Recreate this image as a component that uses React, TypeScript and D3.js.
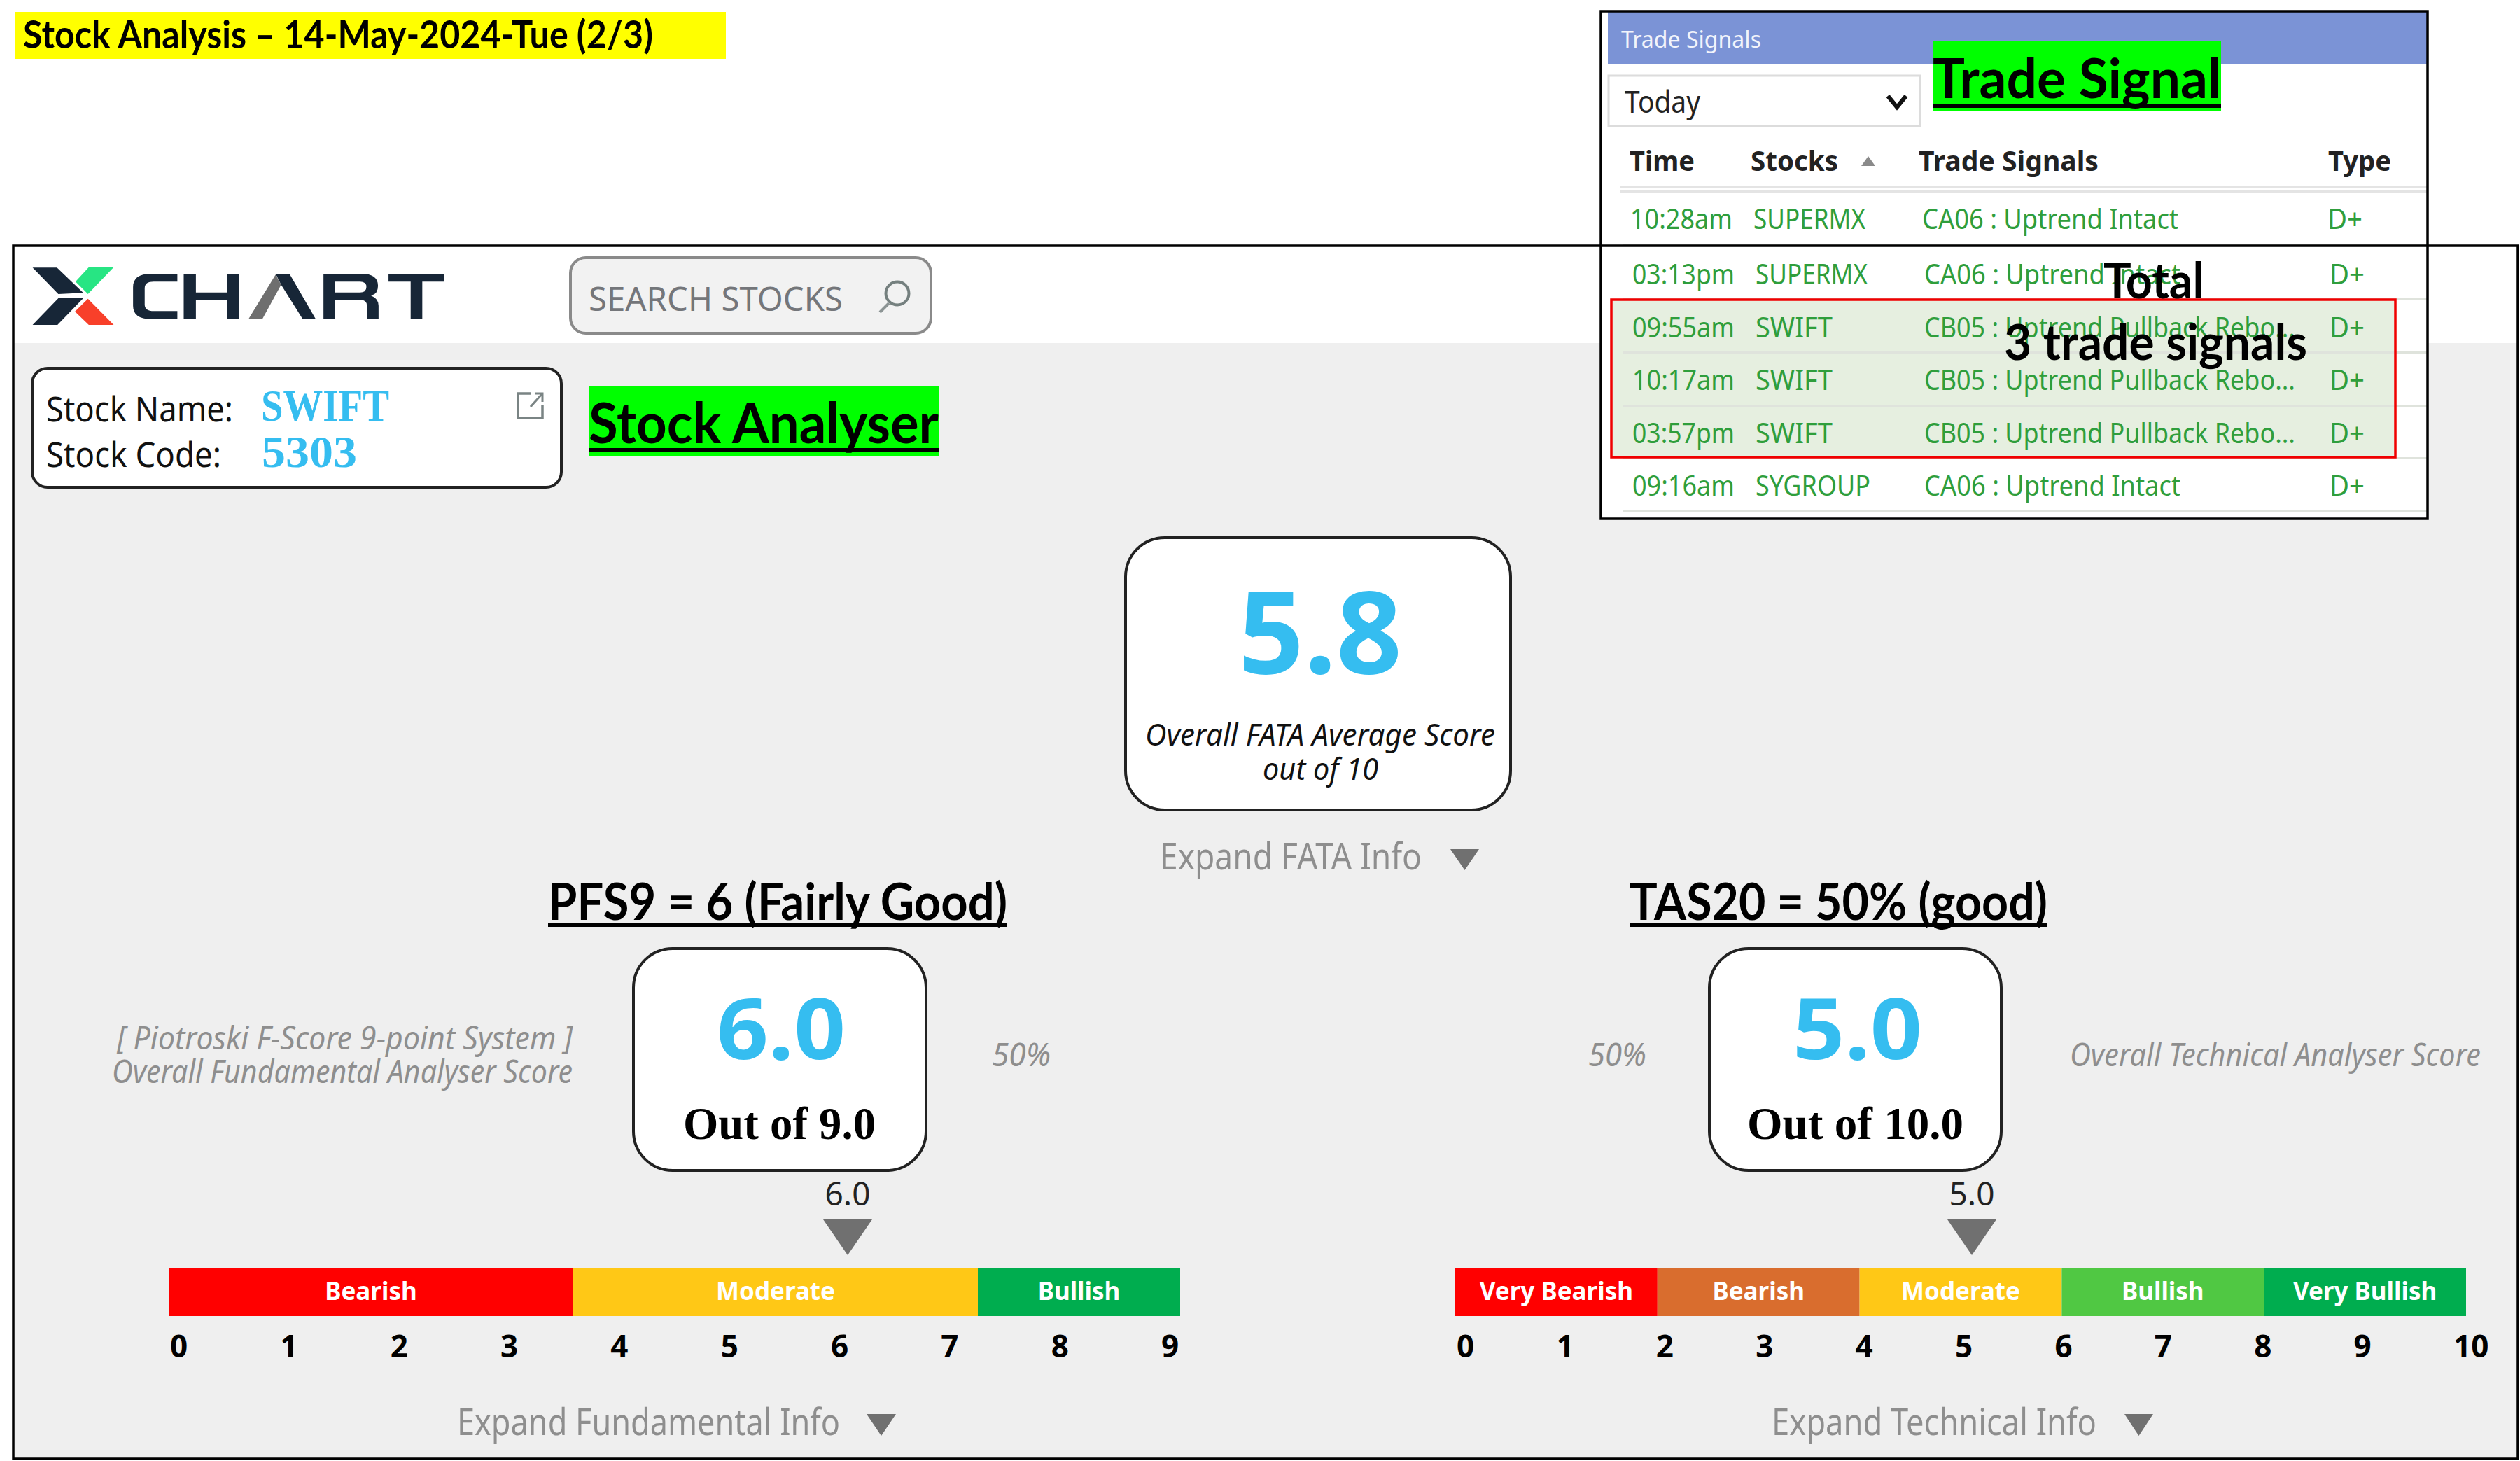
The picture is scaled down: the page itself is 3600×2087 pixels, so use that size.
import React from "react";
import * as d3 from "d3";

const W = 3600;
const H = 2087;

// ---- data ----
const pageTitle = "Stock Analysis – 14-May-2024-Tue (2/3)";
const stockName = "SWIFT";
const stockCode = "5303";
const overallScore = "5.8";
const signalTimes = ["10:28am", "03:13pm", "09:55am", "10:17am", "03:57pm", "09:16am"];
const signalStocks = ["SUPERMX", "SUPERMX", "SWIFT", "SWIFT", "SWIFT", "SYGROUP"];
const signalNames = [
  "CA06 : Uptrend Intact",
  "CA06 : Uptrend Intact",
  "CB05 : Uptrend Pullback Rebo...",
  "CB05 : Uptrend Pullback Rebo...",
  "CB05 : Uptrend Pullback Rebo...",
  "CA06 : Uptrend Intact",
];
const signalTypes = ["D+", "D+", "D+", "D+", "D+", "D+"];

const fundamentalScore = 6;
const fundamentalMax = 9;
const fundamentalBands = ["Bearish", "Moderate", "Bullish"];
const fundamentalBandEnds = [3.6, 7.2, 9];
const fundamentalColors = ["#ff0000", "#ffc816", "#00ad4f"];

const technicalScore = 5;
const technicalMax = 10;
const technicalBands = ["Very Bearish", "Bearish", "Moderate", "Bullish", "Very Bullish"];
const technicalBandEnds = [2, 4, 6, 8, 10];
const technicalColors = ["#ff0000", "#d96d2e", "#ffc816", "#50c843", "#00ad4f"];

// ---- style ----
const LATO = "Lato, Carlito, sans-serif";
const NOTO = "'Noto Sans', sans-serif";
const SERIF = "'Liberation Serif', serif";
const BLUE = "#35bdf0";
const GREY = "#8e8e8e";
const SIGNAL = "#2f9e3c";
const ARROW = "#707070";

type TP = {
  x: number;
  y: number;
  w?: number;
  size: number;
  font?: string;
  fill?: string;
  bold?: boolean;
  italic?: boolean;
  anchor?: string;
  children: React.ReactNode;
};

function T({ x, y, w, size, font = NOTO, fill = "#000", bold, italic, anchor, children }: TP) {
  const fit = w ? { textLength: w, lengthAdjust: "spacingAndGlyphs" as const } : {};
  return (
    <text
      x={x}
      y={y}
      fontFamily={font}
      fontSize={size}
      fill={fill}
      fontWeight={bold ? 700 : 400}
      fontStyle={italic ? "italic" : "normal"}
      textAnchor={anchor}
      {...fit}
    >
      {children}
    </text>
  );
}

function Tri({ x0, x1, y0, y1, fill = ARROW }: { x0: number; x1: number; y0: number; y1: number; fill?: string }) {
  const d = d3.line()([
    [x0, y0],
    [x1, y0],
    [(x0 + x1) / 2, y1],
  ]);
  return <path d={d + "Z"} fill={fill} />;
}

function Label({ x0, x1, y0, y1, ulY, ulH, baseline, size, fill, children }: any) {
  return (
    <g>
      {fill && <rect x={x0} y={y0} width={x1 - x0} height={y1 - y0} fill={fill} />}
      <T x={x0} y={baseline} w={x1 - x0} size={size} font={LATO} bold>
        {children}
      </T>
      <rect x={x0} y={ulY} width={x1 - x0} height={ulH} fill="#000" />
    </g>
  );
}

function Logo() {
  const navy = "#172637";
  return (
    <g transform="translate(30,365) scale(0.3954,0.3333)">
      <polygon points="42,52 130,52 225,160 135,165" fill={navy} />
      <polygon points="135,183 225,183 132,297 42,297" fill={navy} />
      <polygon points="245,50 335,50 242,165 197,112" fill="#27e583" />
      <polygon points="242,185 335,297 245,297 195,240" fill="#f8402a" />
      <path
        d="M565,78 L470,78 Q405,78 405,135 L405,215 Q405,272 470,272 L565,272 L565,238 L480,238 Q447,238 447,210 L447,140 Q447,112 480,112 L565,112 Z"
        fill={navy}
      />
      <path d="M588,78 H632 V158 H745 V78 H788 V272 H745 V190 H632 V272 H588 Z" fill={navy} />
      <polygon points="920,82 940,125 872,272 822,272" fill="#6f6f6f" />
      <polygon points="920,78 970,78 1065,272 1018,272 940,125" fill={navy} />
      <path
        fillRule="evenodd"
        d="M1093,78 L1230,78 Q1290,78 1290,130 Q1290,165 1265,172 Q1292,185 1292,215 L1292,272 L1250,272 L1250,215 Q1250,190 1225,190 L1135,190 L1135,272 L1093,272 Z M1135,112 L1135,158 L1225,158 Q1248,158 1248,135 Q1248,112 1225,112 Z"
        fill={navy}
      />
      <path d="M1328,78 H1528 V112 H1450 V272 H1408 V112 H1328 Z" fill={navy} />
    </g>
  );
}

type GaugeProps = {
  score: number;
  max: number;
  bands: string[];
  ends: number[];
  colors: string[];
  barX: [number, number];
  tickX: [number, number];
};

function Gauge({ score, max, bands, ends, colors, barX, tickX }: GaugeProps) {
  const bar = d3.scaleLinear().domain([0, max]).range(barX);
  // tick labels are left-aligned on their positions, the pointer sits a little right of them
  const tick = d3.scaleLinear().domain([0, max]).range(tickX);
  const px = tick(score) + 24;
  const barTop = 1812;
  const barBottom = 1880;
  return (
    <g>
      <T x={px} y={1722} size={46} anchor="middle" fill="#222">
        {score.toFixed(1)}
      </T>
      <Tri x0={px - 35} x1={px + 35} y0={1742} y1={1793} />
      {bands.map((b, i) => {
        const a = i === 0 ? 0 : ends[i - 1];
        const x0 = bar(a);
        const x1 = bar(ends[i]);
        return (
          <g key={b}>
            <rect x={x0} y={barTop} width={x1 - x0} height={barBottom - barTop} fill={colors[i]} />
            <T x={(x0 + x1) / 2} y={1857} size={35} bold fill="#fff" anchor="middle">
              {b}
            </T>
          </g>
        );
      })}
      {d3.range(0, max + 1).map((v) => (
        <T key={v} x={tick(v)} y={1939} size={44} bold>
          {v}
        </T>
      ))}
    </g>
  );
}

function ScoreBox({ x0, x1, score, outOf, sx0, sx1, ox0, ox1 }: any) {
  return (
    <g>
      <rect x={x0} y={1355} width={x1 - x0} height={317} rx={56} fill="#fff" stroke="#222" strokeWidth={4} />
      <T x={sx0} y={1513} w={sx1 - sx0} size={120} bold fill={BLUE}>
        {score}
      </T>
      <T x={ox0} y={1627} w={ox1 - ox0} size={66} font={SERIF} bold>
        {outOf}
      </T>
    </g>
  );
}

function SignalTable() {
  const rowBase = d3.scaleLinear().domain([1, 5]).range([406, 708]);
  const base = (i: number) => (i === 0 ? 327 : rowBase(i));
  const shift = (i: number) => (i === 0 ? 0 : 3);
  const timeW = 146;
  const stockW = (s: string) => (s === "SWIFT" ? 110 : s === "SYGROUP" ? 164 : 160);
  const nameW = (s: string) => (s.startsWith("CB") ? 530 : 366);
  const rules = [349, 427, 503, 579, 654, 729];
  return (
    <g>
      <rect x={2286} y={15} width={1182} height={726} fill="#fff" />
      <rect x={2297} y={16} width={1171} height={76} fill="#7b93d6" />
      <T x={2316} y={68} w={200} size={33} fill="#f2f4fb">
        Trade Signals
      </T>
      <rect x={2298} y={108} width={445} height={72} fill="#fff" stroke="#dcdcdc" strokeWidth={3} />
      <T x={2321} y={161} w={108} size={44} fill="#222">
        Today
      </T>
      <path d="M2697,137 L2710,153 L2723,137" fill="none" stroke="#111" strokeWidth={6} />

      <T x={2328} y={244} w={93} size={40} bold fill="#222">
        Time
      </T>
      <T x={2501} y={244} w={125} size={40} bold fill="#222">
        Stocks
      </T>
      <Tri x0={2669 - 10} x1={2669 + 10} y0={237} y1={223} fill="#8a8a8a" />
      <T x={2741} y={244} w={257} size={40} bold fill="#222">
        Trade Signals
      </T>
      <T x={3326} y={244} w={90} size={40} bold fill="#222">
        Type
      </T>
      <rect x={2315} y={265} width={1153} height={4} fill="#e4e4e4" />
      <rect x={2315} y={272} width={1153} height={4} fill="#e4e4e4" />

      <rect x={2302} y={428} width={1120} height={225} fill="#e6efe0" />
      {rules.map((y) => (
        <rect key={y} x={2318} y={y - 1} width={1150} height={3} fill="#dfe3dc" />
      ))}
      {signalTimes.map((t, i) => (
        <g key={i}>
          <T x={2329 + shift(i)} y={base(i)} w={timeW} size={40} fill={SIGNAL}>
            {t}
          </T>
          <T x={2505 + shift(i)} y={base(i)} w={stockW(signalStocks[i])} size={40} fill={SIGNAL}>
            {signalStocks[i]}
          </T>
          <T x={2746 + shift(i)} y={base(i)} w={nameW(signalNames[i])} size={40} fill={SIGNAL}>
            {signalNames[i]}
          </T>
          <T x={3325 + shift(i)} y={base(i)} w={50} size={40} fill={SIGNAL}>
            {signalTypes[i]}
          </T>
        </g>
      ))}
    </g>
  );
}

export default function App() {
  return (
    <svg
      width={W}
      height={H}
      viewBox={`0 0 ${W} ${H}`}
      style={{ position: "absolute", left: 0, top: 0, display: "block", background: "#fff" }}
    >
      {/* dashboard frame */}
      <rect x={19} y={351} width={3578} height={139} fill="#fff" />
      <rect x={19} y={490} width={3578} height={1594} fill="#efefef" />

      {/* title */}
      <rect x={21} y={17} width={1016} height={67} fill="#ffff00" />
      <T x={33} y={69} w={900} size={56} font={LATO} bold>
        {pageTitle}
      </T>

      <Logo />

      {/* search */}
      <rect x={815} y={368} width={515} height={108} rx={22} fill="#f2f2f2" stroke="#8a8a8a" strokeWidth={4} />
      <T x={841} y={444} w={363} size={48} fill="#74767a">
        SEARCH STOCKS
      </T>
      <circle cx={1282} cy={419} r={16.5} fill="none" stroke="#75807f" strokeWidth={4} />
      <line x1={1270} y1={433} x2={1257} y2={446} stroke="#8c9494" strokeWidth={4} />

      {/* stock box */}
      <rect x={46} y={526} width={756} height={170} rx={22} fill="#fff" stroke="#222" strokeWidth={4} />
      <T x={66} y={602} w={267} size={50} fill="#111">
        Stock Name:
      </T>
      <T x={66} y={667} w={250} size={50} fill="#111">
        Stock Code:
      </T>
      <T x={373} y={601} w={183} size={64} font={SERIF} bold fill={BLUE}>
        {stockName}
      </T>
      <T x={374} y={667} w={136} size={64} font={SERIF} bold fill={BLUE}>
        {stockCode}
      </T>
      <path d="M758,562 H740 V597 H775 V578" fill="none" stroke="#7a8484" strokeWidth={3.5} />
      <path d="M758,581 L775,562 M765,562 H775 V574" fill="none" stroke="#7a8484" strokeWidth={3} />

      <Label x0={841} x1={1341} y0={551} y1={652} ulY={640} ulH={6} baseline={633} size={80} fill="#00ff00">
        Stock Analyser
      </Label>

      {/* overall */}
      <rect x={1608} y={768} width={550} height={389} rx={56} fill="#fff" stroke="#222" strokeWidth={4} />
      <T x={1769} y={962} w={234} size={164} bold fill={BLUE}>
        {overallScore}
      </T>
      <T x={1636} y={1065} w={500} size={44} italic fill="#111">
        Overall FATA Average Score
      </T>
      <T x={1804} y={1114} w={165} size={44} italic fill="#111">
        out of 10
      </T>
      <T x={1657} y={1242} w={374} size={52} fill={GREY}>
        Expand FATA Info
      </T>
      <Tri x0={2072} x1={2113} y0={1213} y1={1243} />

      {/* fundamental */}
      <Label x0={783} x1={1439} baseline={1314} ulY={1319} ulH={5} size={72}>
        PFS9 = 6 (Fairly Good)
      </Label>
      <ScoreBox x0={905} x1={1323} score="6.0" outOf="Out of 9.0" sx0={1024} sx1={1208} ox0={976} ox1={1251} />
      <T x={167} y={1499} w={651} size={46} italic fill={GREY}>
        [ Piotroski F-Score 9-point System ]
      </T>
      <T x={160} y={1547} w={658} size={46} italic fill={GREY}>
        Overall Fundamental Analyser Score
      </T>
      <T x={1417} y={1523} w={84} size={46} italic fill={GREY}>
        50%
      </T>
      <Gauge
        score={fundamentalScore}
        max={fundamentalMax}
        bands={fundamentalBands}
        ends={fundamentalBandEnds}
        colors={fundamentalColors}
        barX={[241, 1686]}
        tickX={[243, 1659]}
      />
      <T x={653} y={2050} w={547} size={52} fill={GREY}>
        Expand Fundamental Info
      </T>
      <Tri x0={1238} x1={1280} y0={2020} y1={2051} />

      {/* technical */}
      <Label x0={2328} x1={2925} baseline={1314} ulY={1319} ulH={5} size={72}>
        TAS20 = 50% (good)
      </Label>
      <ScoreBox x0={2442} x1={2859} score="5.0" outOf="Out of 10.0" sx0={2561} sx1={2746} ox0={2496} ox1={2805} />
      <T x={2269} y={1523} w={83} size={46} italic fill={GREY}>
        50%
      </T>
      <T x={2957} y={1523} w={587} size={46} italic fill={GREY}>
        Overall Technical Analyser Score
      </T>
      <Gauge
        score={technicalScore}
        max={technicalMax}
        bands={technicalBands}
        ends={technicalBandEnds}
        colors={technicalColors}
        barX={[2079, 3523]}
        tickX={[2081, 3505]}
      />
      <T x={2531} y={2050} w={464} size={52} fill={GREY}>
        Expand Technical Info
      </T>
      <Tri x0={3035} x1={3076} y0={2020} y1={2051} />

      {/* trade signals panel */}
      <SignalTable />
      <rect x={19} y={351} width={3578} height={1733} fill="none" stroke="#000" strokeWidth={3.5} />
      <rect x={2287} y={16} width={1181} height={725} fill="none" stroke="#000" strokeWidth={3.5} />
      <rect x={2302} y={428} width={1120} height={225} fill="none" stroke="#f00000" strokeWidth={3.5} />

      <Label x0={2761} x1={3173} y0={59} y1={159} ulY={148} ulH={6} baseline={140} size={78} fill="#00ff00">
        Trade Signal
      </Label>
      <T x={3005} y={426} w={144} size={70} font={LATO} bold>
        Total
      </T>
      <T x={2863} y={514} w={433} size={70} font={LATO} bold>
        3 trade signals
      </T>
    </svg>
  );
}
